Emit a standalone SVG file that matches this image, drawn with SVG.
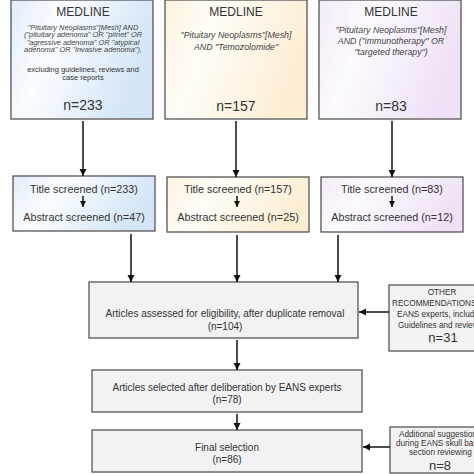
<svg xmlns="http://www.w3.org/2000/svg" width="474" height="474" viewBox="0 0 474 474">
<defs>
<linearGradient id="gBlue" x1="0" y1="0" x2="1" y2="0.3">
<stop offset="0" stop-color="#e2edf9"/><stop offset="0.35" stop-color="#fbfdff"/><stop offset="1" stop-color="#d3e5f6"/>
</linearGradient>
<linearGradient id="gCream" x1="0" y1="0" x2="1" y2="0.3">
<stop offset="0" stop-color="#fcf3df"/><stop offset="0.35" stop-color="#fffdf8"/><stop offset="1" stop-color="#fbeed3"/>
</linearGradient>
<linearGradient id="gLav" x1="0" y1="0" x2="1" y2="0.3">
<stop offset="0" stop-color="#f3eaf8"/><stop offset="0.35" stop-color="#fdfbfe"/><stop offset="1" stop-color="#efe2f6"/>
</linearGradient>
<marker id="ah" markerWidth="8" markerHeight="8" refX="7" refY="3.5" orient="auto" markerUnits="userSpaceOnUse">
<path d="M0,0 L7,3.5 L0,7 z" fill="#111"/>
</marker>
<marker id="ahs" markerWidth="7" markerHeight="7" refX="6" refY="3" orient="auto" markerUnits="userSpaceOnUse">
<path d="M0,0 L6,3 L0,6 z" fill="#111"/>
</marker>
</defs>
<style>
.box{stroke:#555;stroke-width:1.3}
.gray{fill:#f2f2f2}
text{font-family:"Liberation Sans",Arial,sans-serif;fill:#333}
.mid{text-anchor:middle}
.h{font-size:12px}
.n{font-size:14px}
.n2{font-size:13px}
.it{font-style:italic;fill:#444}
.s{font-size:10.8px}
.m{font-size:10px}
.sm{font-size:8.2px}
.line{stroke:#111;stroke-width:1.5;fill:none}
</style>

<g id="medline1">
<rect class="box" x="11" y="0" width="142" height="119" fill="url(#gBlue)"/>
<text class="mid h" x="83" y="16">MEDLINE</text>
<text class="mid it" font-size="7.4" x="83" y="29.5">"Pituitary Neoplasms"[Mesh] AND</text>
<text class="mid it" font-size="7.4" x="83" y="37">("pituitary adenoma" OR "pitnet" OR</text>
<text class="mid it" font-size="7.4" x="83" y="44.5">"agressive adenoma" OR "atypical</text>
<text class="mid it" font-size="7.4" x="83" y="52">adenoma" OR "invasive adenoma"),</text>
<text class="mid" font-size="7.5" x="83" y="72">excluding guidelines, reviews and</text>
<text class="mid" font-size="7.5" x="83" y="80">case reports</text>
<text class="mid n" x="83" y="110">n=233</text>
</g>

<g id="medline2">
<rect class="box" x="165" y="0" width="142" height="119" fill="url(#gCream)"/>
<text class="mid h" x="236" y="16">MEDLINE</text>
<text class="mid it" font-size="8.8" x="236" y="38">"Pituitary Neoplasms"[Mesh]</text>
<text class="mid it" font-size="8.8" x="236" y="50">AND "Temozolomide"</text>
<text class="mid n" x="236" y="111">n=157</text>
</g>

<g id="medline3">
<rect class="box" x="319" y="0" width="142" height="119" fill="url(#gLav)"/>
<text class="mid h" x="391" y="16">MEDLINE</text>
<text class="mid it" font-size="8.8" x="391" y="33">"Pituitary Neoplasms"[Mesh]</text>
<text class="mid it" font-size="8.8" x="391" y="44">AND ("immunotherapy" OR</text>
<text class="mid it" font-size="8.8" x="391" y="55">"targeted therapy")</text>
<text class="mid n" x="391" y="111">n=83</text>
</g>

<g id="screen1">
<rect class="box" x="13" y="176" width="142" height="55" fill="url(#gBlue)"/>
<text class="mid s" x="84" y="193">Title screened (n=233)</text>
<text class="mid s" x="84" y="221">Abstract screened (n=47)</text>
</g>

<g id="screen2">
<rect class="box" x="167" y="177" width="142" height="55" fill="url(#gCream)"/>
<text class="mid s" x="238" y="193">Title screened (n=157)</text>
<text class="mid s" x="238" y="221">Abstract screened (n=25)</text>
</g>

<g id="screen3">
<rect class="box" x="321" y="177" width="142" height="55" fill="url(#gLav)"/>
<text class="mid s" x="392" y="193">Title screened (n=83)</text>
<text class="mid s" x="392" y="221">Abstract screened (n=12)</text>
</g>

<g id="assessed">
<rect class="box gray" x="89" y="282" width="269" height="56"/>
<text class="mid m" x="225" y="316.5">Articles assessed for eligibility, after duplicate removal</text>
<text class="mid m" x="225" y="329.5">(n=104)</text>
</g>

<g id="other">
<rect class="box gray" x="389" y="285" width="100" height="66"/>
<text class="mid sm" x="442" y="295">OTHER</text>
<text class="sm" x="392" y="306">RECOMMENDATIONS</text>
<text class="sm" x="397" y="317">EANS experts, including</text>
<text class="sm" x="398" y="328">Guidelines and reviews</text>
<text class="mid n2" x="443" y="342">n=31</text>
</g>

<g id="selected">
<rect class="box gray" x="92" y="370" width="270" height="42"/>
<text class="mid m" x="227" y="390.5">Articles selected after deliberation by EANS experts</text>
<text class="mid m" x="227" y="402.5">(n=78)</text>
</g>

<g id="final">
<rect class="box gray" x="92" y="430" width="270" height="42"/>
<text class="mid m" x="227" y="450.5">Final selection</text>
<text class="mid m" x="227" y="462.5">(n=86)</text>
</g>

<g id="additional">
<rect class="box gray" x="390" y="427" width="100" height="46"/>
<text class="sm" x="399" y="437">Additional suggestions</text>
<text class="sm" x="396" y="446">during EANS skull base</text>
<text class="sm" x="409" y="455">section reviewing</text>
<text class="mid n2" x="440" y="470">n=8</text>
</g>

<g id="connectors">
<line class="line" x1="83" y1="121" x2="83" y2="176" marker-end="url(#ah)"/>
<line class="line" x1="236" y1="121" x2="236" y2="177" marker-end="url(#ah)"/>
<line class="line" x1="392" y1="121" x2="392" y2="177" marker-end="url(#ah)"/>
<line class="line" x1="83" y1="196" x2="83" y2="207" marker-end="url(#ahs)"/>
<line class="line" x1="237" y1="196" x2="237" y2="207" marker-end="url(#ahs)"/>
<line class="line" x1="392" y1="196" x2="392" y2="207" marker-end="url(#ahs)"/>
<line class="line" x1="131" y1="234" x2="131" y2="282" marker-end="url(#ah)"/>
<line class="line" x1="237" y1="235" x2="237" y2="282" marker-end="url(#ah)"/>
<line class="line" x1="338" y1="235" x2="338" y2="282" marker-end="url(#ah)"/>
<line class="line" x1="389" y1="312" x2="359" y2="312" marker-end="url(#ah)"/>
<line class="line" x1="237" y1="340" x2="237" y2="370" marker-end="url(#ah)"/>
<line class="line" x1="237" y1="414" x2="237" y2="430" marker-end="url(#ah)"/>
<line class="line" x1="390" y1="447" x2="363" y2="447" marker-end="url(#ah)"/>
</g>
</svg>
